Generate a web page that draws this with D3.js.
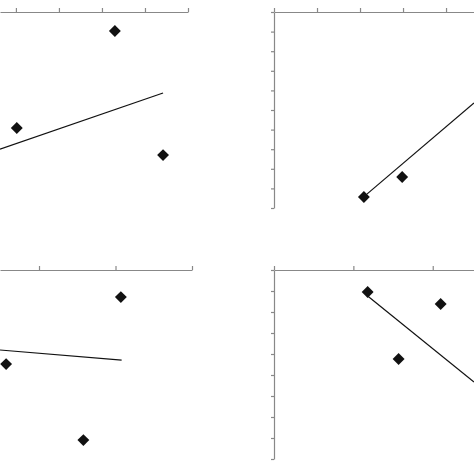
<!DOCTYPE html>
<html><head><meta charset="utf-8">
<script src="https://cdn.jsdelivr.net/npm/d3@7"></script>
<style>body{margin:0;background:#fff}</style></head>
<body><svg id="c" width="474" height="474"></svg>
<script>
// points and fitted line per panel, in axis units
var tlPoints = [[0.02, 4.08], [2.3, 9.03], [3.42, 2.7]];
var tlLine = [[-0.37, 3.0], [3.42, 5.87]];
var trPoints = [[2.09, 0.56], [2.98, 1.58]];
var trLine = [[2.16, 0.71], [4.65, 5.36]];
var blPoints = [[-0.43, 4.52], [1.07, 7.71], [0.58, 0.9]];
var blLine = [[-0.51, 5.19], [1.08, 4.71]];
var brPoints = [[1.18, 7.95], [2.1, 7.38], [1.57, 4.76]];
var brLine = [[1.18, 7.76], [2.52, 3.67]];

var topTicks = [0, 1, 2, 3, 4];
var botTicks = [0, 1, 2];
var topY = d3.range(0, 11);
var botY = d3.range(0, 10);

var svg = d3.select("#c");

var panels = [
  {pts: tlPoints, line: tlLine, x: d3.scaleLinear().domain([-0.37, 4]).range([0, 188]),
   y: d3.scaleLinear().domain([0, 10]).range([208, 12]), xt: topTicks, yt: null},
  {pts: trPoints, line: trLine, x: d3.scaleLinear().domain([0, 4.65]).range([274, 474]),
   y: d3.scaleLinear().domain([0, 10]).range([208, 12]), xt: topTicks, yt: topY},
  {pts: blPoints, line: blLine, x: d3.scaleLinear().domain([-0.51, 2]).range([0, 192]),
   y: d3.scaleLinear().domain([0, 9]).range([459, 270]), xt: botTicks, yt: null},
  {pts: brPoints, line: brLine, x: d3.scaleLinear().domain([0, 2.52]).range([274, 474]),
   y: d3.scaleLinear().domain([0, 9]).range([459, 270]), xt: botTicks, yt: botY}
];

panels.forEach(function(p) {
  var top = p.y.range()[1];
  var xa = svg.append("g")
    .attr("transform", "translate(0," + top + ")")
    .call(d3.axisTop(p.x).tickValues(p.xt).tickFormat("").tickSize(4).tickSizeOuter(0));
  if (p.yt) {
    svg.append("g")
      .attr("transform", "translate(" + p.x(0) + ",0)")
      .call(d3.axisLeft(p.y).tickValues(p.yt).tickFormat("").tickSize(3).tickSizeOuter(0));
  }
  svg.append("path")
    .attr("d", d3.line().x(function(d) { return p.x(d[0]); }).y(function(d) { return p.y(d[1]); })(p.line))
    .attr("fill", "none").attr("stroke", "#111").attr("stroke-width", 1.2);
  svg.selectAll(null).data(p.pts).enter().append("path")
    .attr("d", d3.symbol(d3.symbolDiamond2, 90)())
    .attr("transform", function(d) { return "translate(" + p.x(d[0]) + "," + p.y(d[1]) + ")"; })
    .attr("fill", "#111");
});
svg.selectAll(".domain, .tick line").attr("stroke", "#888").attr("stroke-width", 1.2);
</script></body></html>
